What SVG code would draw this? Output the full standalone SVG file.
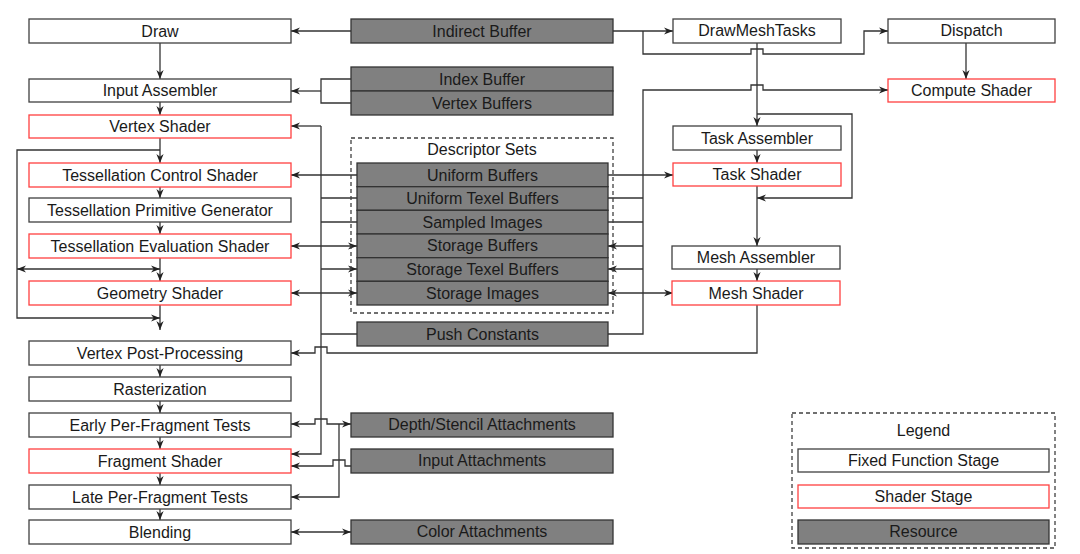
<svg xmlns="http://www.w3.org/2000/svg" width="1080" height="554" viewBox="0 0 1080 554">
<style>
.ff{fill:#ffffff;stroke:#404040;stroke-width:1.3}
.sh{fill:#ffffff;stroke:#ff4040;stroke-width:1.3}
.rs{fill:#808080;stroke:#333333;stroke-width:1.3}
.dash{fill:none;stroke:#404040;stroke-width:1.3;stroke-dasharray:4 3}
text{font-family:"Liberation Sans",Arial,sans-serif;font-size:16px;fill:#1a1a1a;text-anchor:middle}
.c path{fill:none;stroke:#333333;stroke-width:1.3}
.a{marker-end:url(#arr)}
.b{marker-start:url(#arr);marker-end:url(#arr)}
</style>
<defs>
<marker id="arr" viewBox="0 0 10 10" refX="10" refY="5" markerWidth="9" markerHeight="9" markerUnits="userSpaceOnUse" orient="auto-start-reverse">
<path d="M0,1 L10,5 L0,9 L3,5 z" fill="#222222"/>
</marker>
</defs>
<rect width="1080" height="554" fill="#ffffff"/>

<g class="c" id="connectors">
<path class="a" d="M160,43 V79"/>
<path class="a" d="M160,102 V115"/>
<path class="a" d="M160,138 V163"/>
<path class="a" d="M160,187 V198"/>
<path class="a" d="M160,222 V234"/>
<path class="a" d="M160,258 V281"/>
<path class="a" d="M160,305 V330"/>
<path class="a" d="M160,365 V377"/>
<path class="a" d="M160,401 V413"/>
<path class="a" d="M160,437 V449"/>
<path class="a" d="M160,473 V485"/>
<path class="a" d="M160,509 V520"/>
<path class="a" d="M160,150 H17 V318 H160"/>
<path class="b" d="M17,269 H160"/>
<path class="a" d="M351,31 H291"/>
<path class="a" d="M613,31 H673"/>
<path class="a" d="M643,31 V54 H751 V49 H763 V54 H864 V31 H888"/>
<path d="M351,79 H321 V103 H351"/>
<path class="a" d="M321,91 H291"/>
<path class="a" d="M321,126 H291"/>
<path class="a" d="M321,126 V454 H291"/>
<path class="a" d="M357,175 H291"/>
<path class="a" d="M608,175 H673"/>
<path d="M357,198 H321"/>
<path d="M608,198 H643"/>
<path d="M357,222 H321"/>
<path d="M608,222 H643"/>
<path class="b" d="M291,246 H357"/>
<path class="a" d="M643,246 H608"/>
<path class="a" d="M321,269 H357"/>
<path class="a" d="M643,269 H608"/>
<path class="b" d="M291,293 H357"/>
<path class="b" d="M608,293 H673"/>
<path d="M357,334 H321"/>
<path class="a" d="M608,334 H643 V90 H751 V85 H763 V90 H888"/>
<path class="a" d="M757,305 V353 H327 V347 H315 V353 H291"/>
<path class="b" d="M291,424 H315 V419 H327 V424 H351"/>
<path class="a" d="M339,424 V497 H291"/>
<path class="a" d="M351,466 H345 V460 H333 V466 H291"/>
<path class="b" d="M291,532 H351"/>
<path class="a" d="M757,43 V126"/>
<path class="a" d="M757,114 H852 V198 H757"/>
<path class="a" d="M757,150 V163"/>
<path class="a" d="M757,186 V246"/>
<path class="a" d="M757,269 V281"/>
<path class="a" d="M966,43 V79"/>
</g>

<g id="draw"><rect class="ff" x="29" y="19" width="262" height="24"/><text x="160" y="37">Draw</text></g>
<g id="input-assembler"><rect class="ff" x="29" y="79" width="262" height="23"/><text x="160" y="96">Input Assembler</text></g>
<g id="vertex-shader"><rect class="sh" x="29" y="115" width="262" height="23"/><text x="160" y="132">Vertex Shader</text></g>
<g id="tess-control"><rect class="sh" x="29" y="163" width="262" height="24"/><text x="160" y="181">Tessellation Control Shader</text></g>
<g id="tess-prim"><rect class="ff" x="29" y="198" width="262" height="24"/><text x="160" y="216">Tessellation Primitive Generator</text></g>
<g id="tess-eval"><rect class="sh" x="29" y="234" width="262" height="24"/><text x="160" y="252">Tessellation Evaluation Shader</text></g>
<g id="geometry"><rect class="sh" x="29" y="281" width="262" height="24"/><text x="160" y="299">Geometry Shader</text></g>
<g id="vertex-post"><rect class="ff" x="29" y="341" width="262" height="24"/><text x="160" y="359">Vertex Post-Processing</text></g>
<g id="rasterization"><rect class="ff" x="29" y="377" width="262" height="24"/><text x="160" y="395">Rasterization</text></g>
<g id="early-tests"><rect class="ff" x="29" y="413" width="262" height="24"/><text x="160" y="431">Early Per-Fragment Tests</text></g>
<g id="fragment-shader"><rect class="sh" x="29" y="449" width="262" height="24"/><text x="160" y="467">Fragment Shader</text></g>
<g id="late-tests"><rect class="ff" x="29" y="485" width="262" height="24"/><text x="160" y="503">Late Per-Fragment Tests</text></g>
<g id="blending"><rect class="ff" x="29" y="520" width="262" height="24"/><text x="160" y="538">Blending</text></g>

<g id="indirect-buffer"><rect class="rs" x="351" y="19" width="262" height="24"/><text x="482" y="37">Indirect Buffer</text></g>
<g id="index-buffer"><rect class="rs" x="351" y="67" width="262" height="24"/><text x="482" y="85">Index Buffer</text></g>
<g id="vertex-buffers"><rect class="rs" x="351" y="91" width="262" height="24"/><text x="482" y="109">Vertex Buffers</text></g>
<g id="descriptor-sets"><rect class="dash" x="351" y="138" width="262" height="175"/><text x="482" y="155">Descriptor Sets</text></g>
<g id="uniform-buffers"><rect class="rs" x="357" y="163" width="251" height="23.7"/><text x="482.5" y="181">Uniform Buffers</text></g>
<g id="uniform-texel-buffers"><rect class="rs" x="357" y="186.7" width="251" height="23.6"/><text x="482.5" y="204">Uniform Texel Buffers</text></g>
<g id="sampled-images"><rect class="rs" x="357" y="210.3" width="251" height="23.7"/><text x="482.5" y="228">Sampled Images</text></g>
<g id="storage-buffers"><rect class="rs" x="357" y="234" width="251" height="23.7"/><text x="482.5" y="251">Storage Buffers</text></g>
<g id="storage-texel-buffers"><rect class="rs" x="357" y="257.7" width="251" height="23.6"/><text x="482.5" y="275">Storage Texel Buffers</text></g>
<g id="storage-images"><rect class="rs" x="357" y="281.3" width="251" height="23.7"/><text x="482.5" y="299">Storage Images</text></g>
<g id="push-constants"><rect class="rs" x="357" y="322" width="251" height="24"/><text x="482.5" y="340">Push Constants</text></g>
<g id="depth-stencil"><rect class="rs" x="351" y="413" width="262" height="24"/><text x="482" y="430">Depth/Stencil Attachments</text></g>
<g id="input-attachments"><rect class="rs" x="351" y="449" width="262" height="24"/><text x="482" y="466">Input Attachments</text></g>
<g id="color-attachments"><rect class="rs" x="351" y="520" width="262" height="24"/><text x="482" y="537">Color Attachments</text></g>

<g id="draw-mesh-tasks"><rect class="ff" x="673" y="19" width="168" height="24"/><text x="757" y="36">DrawMeshTasks</text></g>
<g id="dispatch"><rect class="ff" x="888" y="19" width="167" height="24"/><text x="971.5" y="36">Dispatch</text></g>
<g id="compute-shader"><rect class="sh" x="888" y="79" width="167" height="23"/><text x="971.5" y="96">Compute Shader</text></g>
<g id="task-assembler"><rect class="ff" x="673" y="126" width="168" height="24"/><text x="757" y="144">Task Assembler</text></g>
<g id="task-shader"><rect class="sh" x="673" y="163" width="168" height="23"/><text x="757" y="180">Task Shader</text></g>
<g id="mesh-assembler"><rect class="ff" x="672" y="246" width="168" height="23"/><text x="756" y="263">Mesh Assembler</text></g>
<g id="mesh-shader"><rect class="sh" x="672" y="281" width="168" height="24"/><text x="756" y="299">Mesh Shader</text></g>

<g id="legend">
<rect class="dash" x="792" y="413" width="263" height="135"/>
<text x="923.5" y="436">Legend</text>
<rect class="ff" x="798" y="449" width="251" height="23"/><text x="923.5" y="466">Fixed Function Stage</text>
<rect class="sh" x="798" y="485" width="251" height="23"/><text x="923.5" y="502">Shader Stage</text>
<rect class="rs" x="798" y="520" width="251" height="24"/><text x="923.5" y="537">Resource</text>
</g>
</svg>
